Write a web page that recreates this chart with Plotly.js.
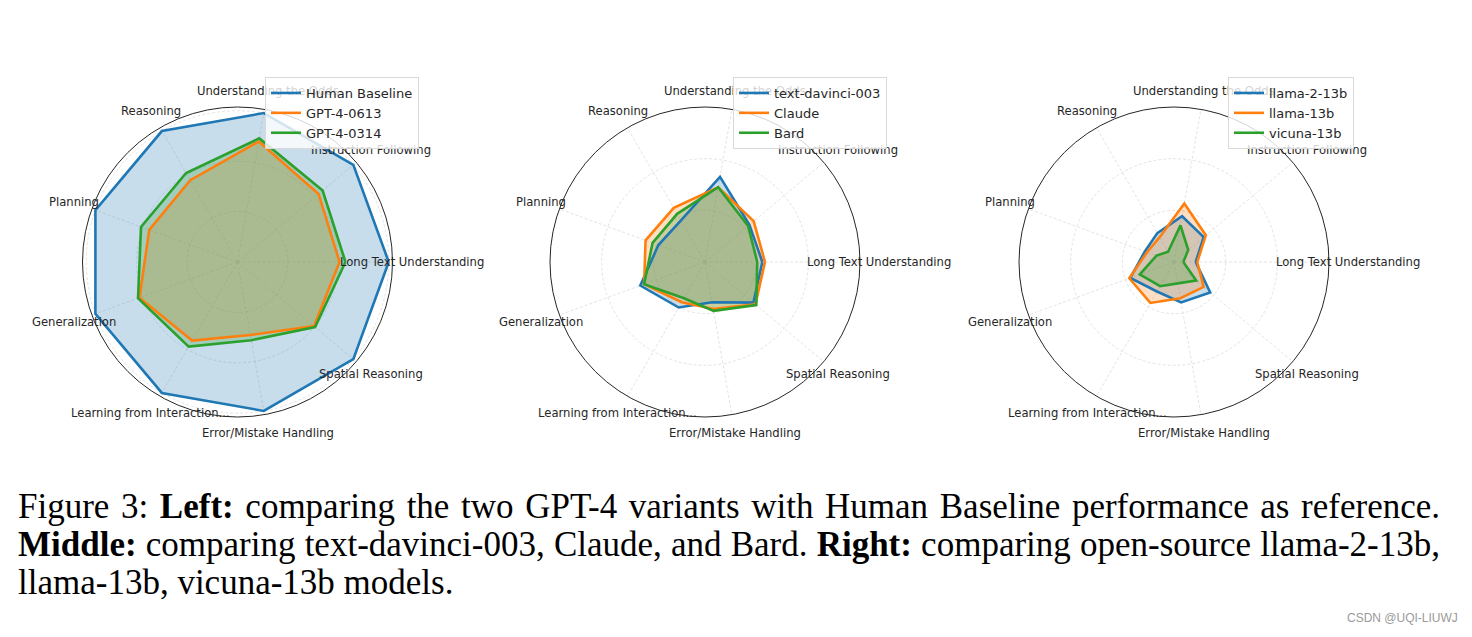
<!DOCTYPE html>
<html>
<head>
<meta charset="utf-8">
<script src="https://cdn.plot.ly/plotly-3.0.1.min.js"></script>
<style>
body{margin:0;background:#fff}
#wrap{position:relative;width:1472px;height:637px}
#chart{width:1472px;height:637px}
#caption{position:absolute;left:18px;top:488px;width:1422px;
  font-family:'Liberation Serif','Times New Roman',serif;font-size:35px;color:#000}
#caption div{height:38px;line-height:38px;white-space:nowrap}
#caption .just{text-align:justify;text-align-last:justify;white-space:normal}
</style>
</head>
<body>
<div id="wrap">
<div id="chart"></div>
<div id="caption">
<div class="just">Figure 3: <b>Left:</b> comparing the two GPT-4 variants with Human Baseline performance as reference.</div>
<div class="just"><b>Middle:</b> comparing text-davinci-003, Claude, and Bard. <b>Right:</b> comparing open-source llama-2-13b,</div>
<div>llama-13b, vicuna-13b models.</div>
</div>
</div>
<script>
// categories, counterclockwise from 3 o'clock
var categories = ['Long Text Understanding', 'Instruction Following', 'Understanding the Odds',
    'Reasoning', 'Planning', 'Generalization', 'Learning from Interaction...',
    'Error/Mistake Handling', 'Spatial Reasoning'];

// left panel
var humanBaseline = [1, 1, 1, 1, 1, 1, 1, 1, 1];
var gpt4_0613 = [0.675, 0.70, 0.809, 0.625, 0.621, 0.69, 0.60, 0.49, 0.66];
var gpt4_0314 = [0.714, 0.735, 0.83, 0.68, 0.679, 0.70, 0.646, 0.525, 0.67];

// middle panel
var davinci003 = [0.37, 0.374, 0.558, 0.31, 0.32, 0.444, 0.339, 0.264, 0.408];
var claude = [0.387, 0.41, 0.49, 0.403, 0.408, 0.418, 0.30, 0.308, 0.425];
var bard = [0.337, 0.363, 0.49, 0.359, 0.36, 0.418, 0.27, 0.32, 0.432];

// right panel
var llama2_13b = [0.14, 0.25, 0.30, 0.215, 0.20, 0.30, 0.22, 0.265, 0.305];
var llama_13b = [0.15, 0.268, 0.383, 0.185, 0.185, 0.307, 0.305, 0.237, 0.25];
var vicuna_13b = [0.06, 0.12, 0.24, 0.076, 0.12, 0.235, 0.18, 0.14, 0.187];

var panels = [
    {names: ['Human Baseline', 'GPT-4-0613', 'GPT-4-0314'], values: [humanBaseline, gpt4_0613, gpt4_0314], rmax: 1.025},
    {names: ['text-davinci-003', 'Claude', 'Bard'], values: [davinci003, claude, bard], rmax: 1.0},
    {names: ['llama-2-13b', 'llama-13b', 'vicuna-13b'], values: [llama2_13b, llama_13b, vicuna_13b], rmax: 1.0}
];

var colors = ['#1f77b4', '#ff7f0e', '#2ca02c'];
var fills = ['rgba(31,119,180,0.25)', 'rgba(255,127,14,0.25)', 'rgba(44,160,44,0.25)'];

var W = 1472, H = 637, R = 155;
var centers = [[237.5, 262], [705, 262], [1174, 262]];
var legendRight = [419, 887, 1354];

function closed(a){ return a.concat([a[0]]); }

var data = [];
var layout = {
    width: W, height: H,
    margin: {l: 0, r: 0, t: 0, b: 0},
    paper_bgcolor: '#fff',
    font: {family: 'DejaVu Sans', color: '#262626'},
    annotations: []
};

panels.forEach(function(p, k){
    var sub = k == 0 ? 'polar' : 'polar' + (k + 1);
    var leg = k == 0 ? 'legend' : 'legend' + (k + 1);
    // fills first, lines on top (like matplotlib zorder)
    p.values.forEach(function(v, j){
        data.push({
            type: 'scatterpolar', subplot: sub, mode: 'none',
            r: closed(v), theta: closed(categories),
            fill: 'toself', fillcolor: fills[j],
            showlegend: false, hoverinfo: 'skip'
        });
    });
    p.values.forEach(function(v, j){
        data.push({
            type: 'scatterpolar', subplot: sub, mode: 'lines',
            r: closed(v), theta: closed(categories),
            name: p.names[j], legend: leg,
            line: {color: colors[j], width: 2.6}
        });
    });

    var cx = centers[k][0], cy = centers[k][1];
    layout[sub] = {
        domain: {x: [(cx - R) / W, (cx + R) / W], y: [1 - (cy + R) / H, 1 - (cy - R) / H]},
        bgcolor: '#fff',
        radialaxis: {range: [0, p.rmax], tickvals: [1 / 3, 2 / 3, 1], showticklabels: false,
            ticks: '', showline: false, gridcolor: '#dcdcdc', griddash: '3px,2px', gridwidth: 0.8},
        angularaxis: {type: 'category', categoryarray: categories, rotation: 0,
            direction: 'counterclockwise', showticklabels: false, ticks: '',
            showline: true, linecolor: '#262626', linewidth: 1,
            gridcolor: '#dcdcdc', griddash: '3px,2px', gridwidth: 0.8}
    };
    layout[leg] = {
        x: legendRight[k] / W, xanchor: 'right', y: 1 - 77 / H, yanchor: 'top',
        bgcolor: 'rgba(255,255,255,0.8)', bordercolor: '#d9d9d9', borderwidth: 1,
        font: {family: 'DejaVu Sans', size: 13, color: '#262626'},
        tracegroupgap: 0
    };

    // theta tick labels, centred just outside the circle as matplotlib does
    categories.forEach(function(c, i){
        var a = i * 2 * Math.PI / categories.length;
        layout.annotations.push({
            xref: 'paper', yref: 'paper', showarrow: false,
            x: (cx + 174 * Math.cos(a)) / W, y: 1 - (cy - 174 * Math.sin(a)) / H,
            xanchor: 'center', yanchor: 'middle', text: c,
            font: {family: 'DejaVu Sans', size: 11.6, color: '#262626'}
        });
    });
});

layout.annotations.push({
    xref: 'paper', yref: 'paper', showarrow: false,
    x: 1460 / W, xanchor: 'right', y: 1 - 618 / H, yanchor: 'middle',
    text: 'CSDN @UQI-LIUWJ', font: {family: 'Liberation Sans', size: 12, color: '#9a9a9a'}
});

Plotly.newPlot('chart', data, layout, {displayModeBar: false, staticPlot: true}).then(function(){
    // legend boxes sit over the theta labels, as in the original figure
    document.querySelectorAll('#chart .infolayer > g').forEach(function(g){
        var cls = g.getAttribute('class') || '';
        if (/^legend\d*$/.test(cls)) g.parentNode.appendChild(g);
    });
});
</script>
</body>
</html>
